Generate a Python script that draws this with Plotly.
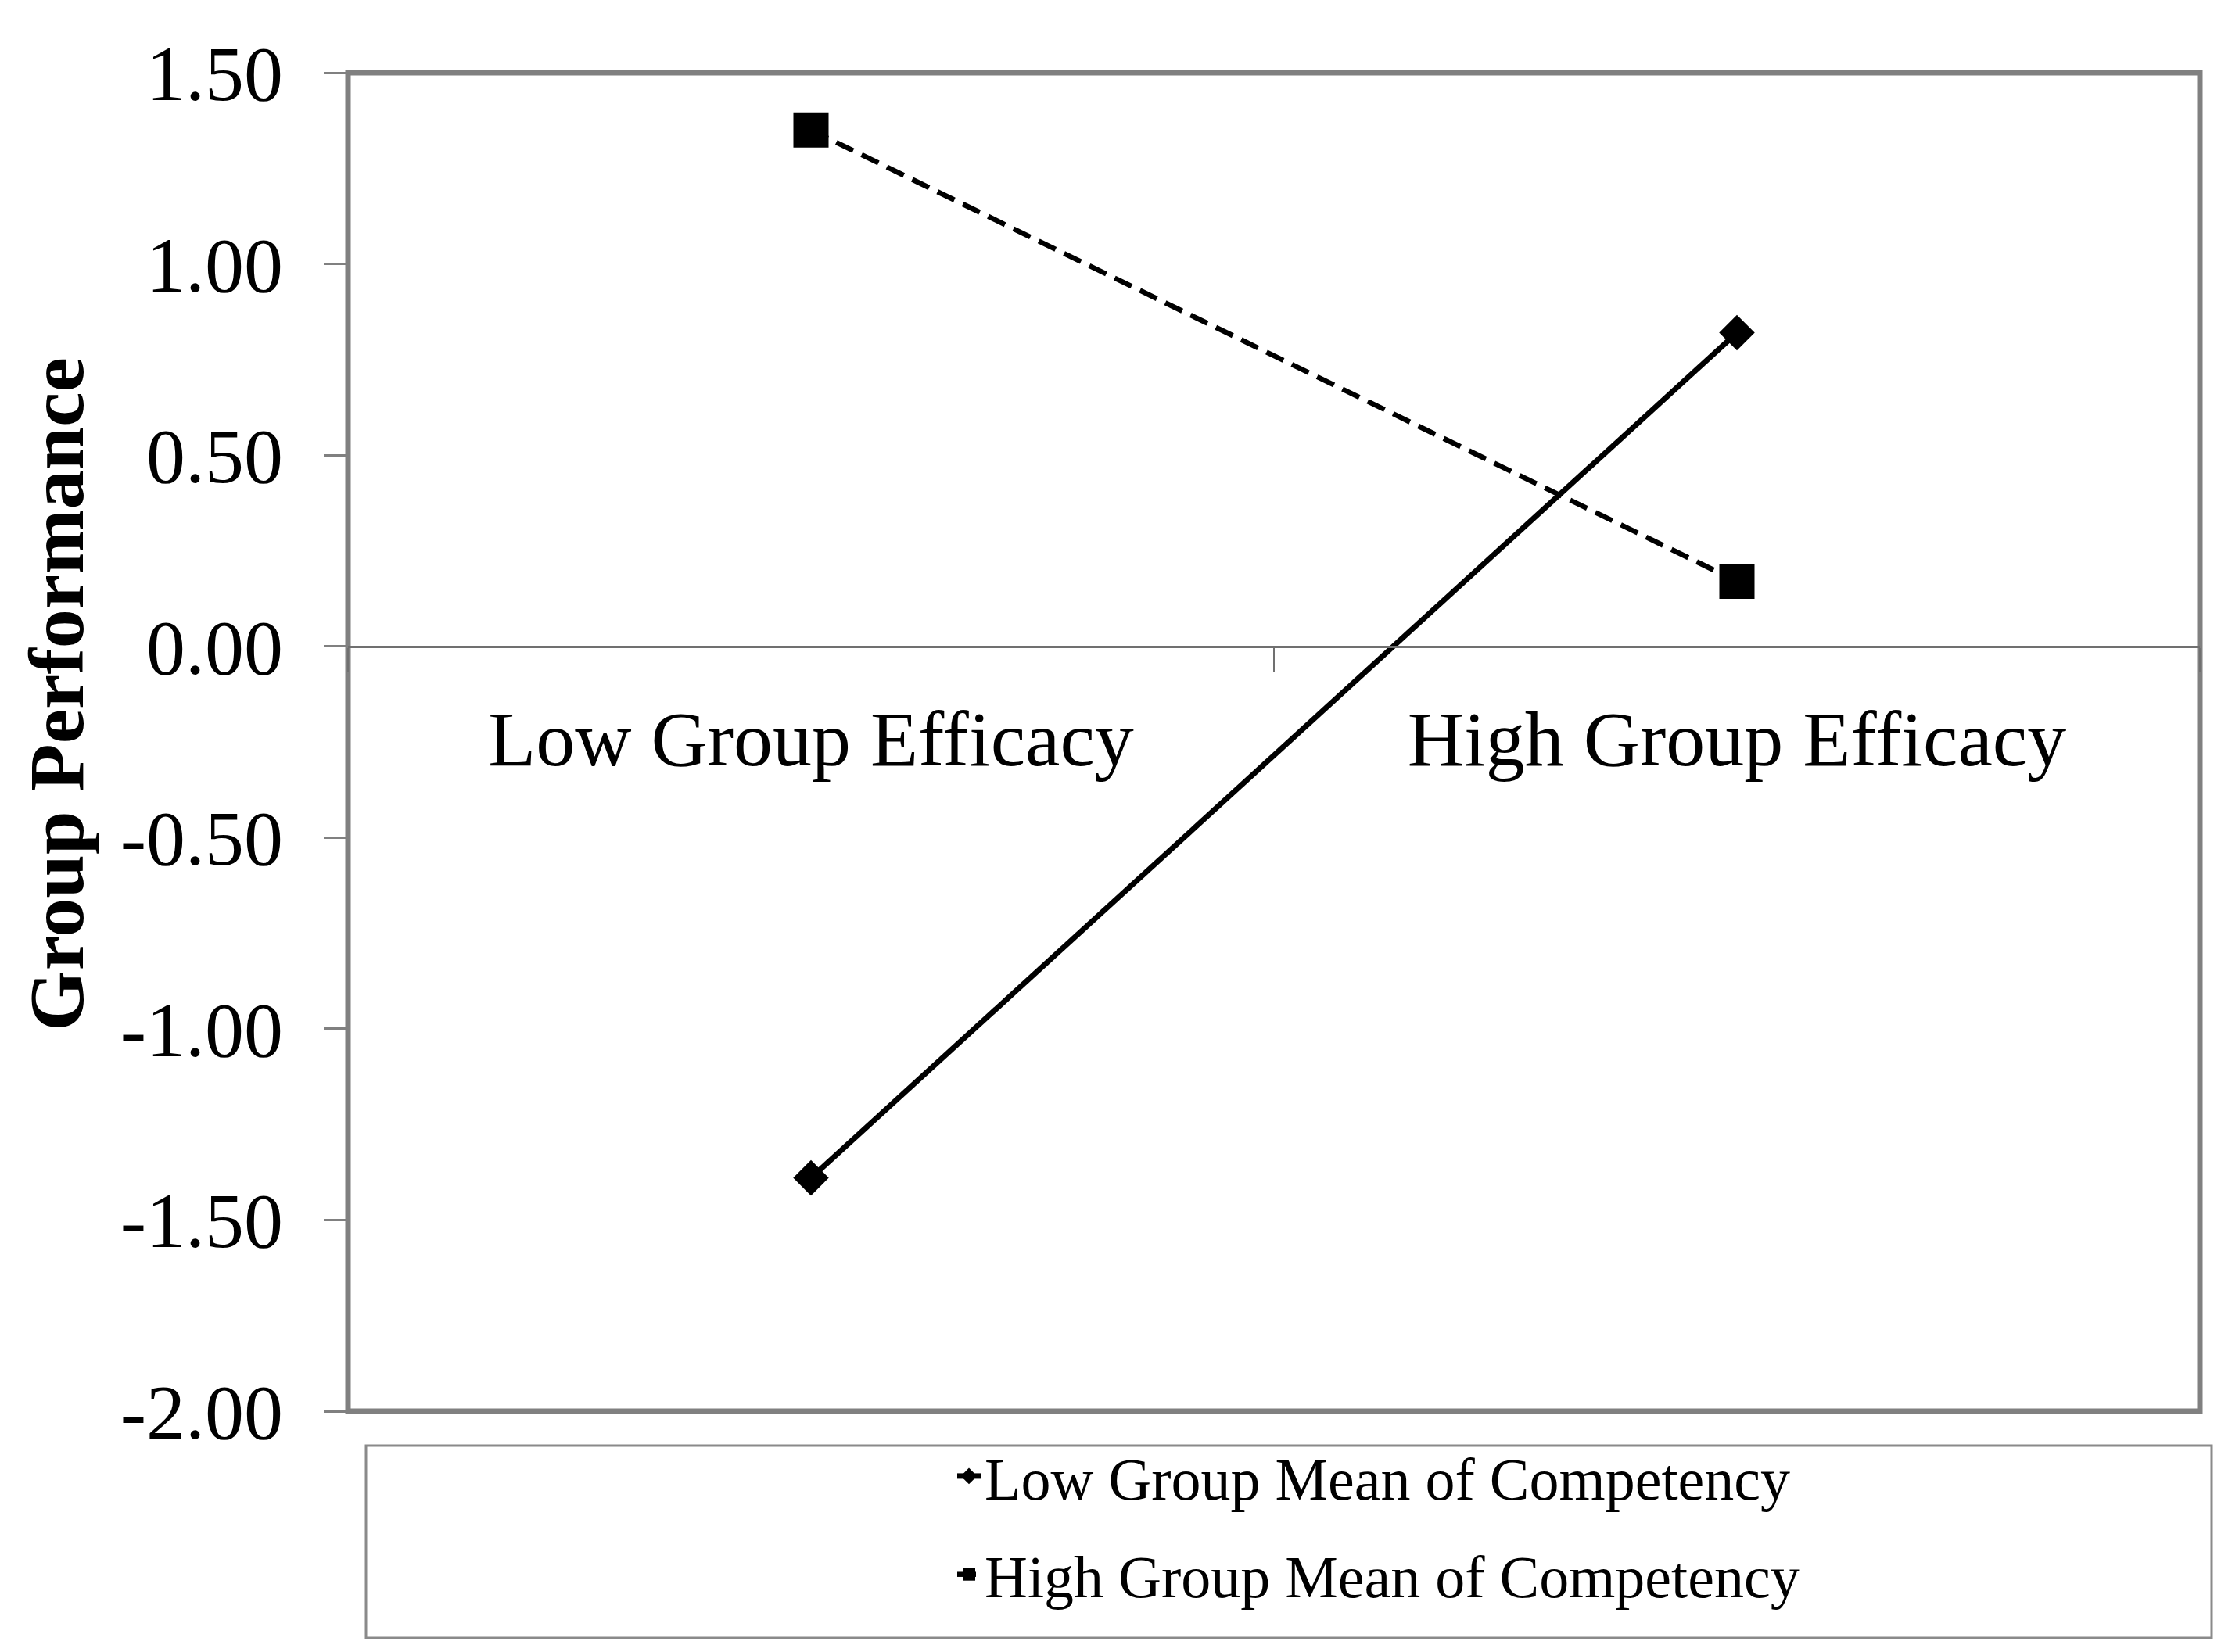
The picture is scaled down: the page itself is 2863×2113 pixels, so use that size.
import plotly.graph_objects as go

# data
efficacy = ['Low Group Efficacy', 'High Group Efficacy']
low_competency = [-1.39, 0.82]
high_competency = [1.35, 0.17]
y_ticks = [-2.0, -1.5, -1.0, -0.5, 0.0, 0.5, 1.0, 1.5]
y_ticktext = [f'{v:.2f}' for v in y_ticks]

W, H = 2863, 2113
L, R, T, B = 437, 2805, 85, 1797   # plot area edges in px


def px_x(p):
    return (p - L) / (R - L)


def px_y(p):
    return (B - p) / (B - T)


FONT = 'Liberation Serif'
GRAY = '#808080'

fig = go.Figure()

fig.add_trace(go.Scatter(
    x=efficacy, y=low_competency, mode='lines+markers',
    name='Low Group Mean of Competency', legendgroup='a',
    line=dict(color='black', width=7),
    marker=dict(symbol='diamond', size=35, color='black'),
))
fig.add_trace(go.Scatter(
    x=efficacy, y=high_competency, mode='lines+markers',
    name='High Group Mean of Competency', legendgroup='b',
    line=dict(color='black', width=6.5, dash='24px,12px'),
    marker=dict(symbol='square', size=45, color='black'),
))

y_min, y_max = -2.0, 1.5
zero_pos = (0 - y_min) / (y_max - y_min)

fig.update_layout(
    width=W, height=H,
    margin=dict(l=L, r=W - R, t=T, b=H - B),
    paper_bgcolor='white', plot_bgcolor='white',
    font=dict(family=FONT, color='black'),
    xaxis=dict(
        type='category', range=[-0.5, 1.5],
        anchor='free', position=zero_pos,
        showline=True, linecolor='#707070', linewidth=3,
        ticks='outside', tickson='boundaries', ticklen=30, tickwidth=2,
        tickcolor='#707070', showgrid=False, zeroline=False,
        tickfont=dict(family=FONT, size=100, color='black'),
        ticklabelstandoff=30,
    ),
    yaxis=dict(
        range=[y_min, y_max], tickvals=y_ticks, ticktext=y_ticktext,
        ticks='outside', ticklen=30, tickwidth=3, tickcolor=GRAY,
        showline=False, showgrid=False, zeroline=False,
        tickfont=dict(family=FONT, size=100, color='black'),
        ticklabelstandoff=32,
    ),
    showlegend=True,
    legend=dict(
        x=px_x(1211), y=px_y(1824), xanchor='left', yanchor='top',
        font=dict(family=FONT, size=76, color='black'),
        bgcolor='rgba(0,0,0,0)', borderwidth=0,
        tracegroupgap=24,
    ),
)

# plot frame
fig.add_shape(type='rect', xref='x domain', yref='y domain',
              x0=0, x1=1, y0=0, y1=1,
              line=dict(color=GRAY, width=7), layer='below')
# legend frame
fig.add_shape(type='rect', xref='paper', yref='paper',
              x0=px_x(460), x1=px_x(2820), y0=px_y(1841), y1=px_y(2087),
              line=dict(color='#8a8a8a', width=3), layer='below')

# y axis title
fig.add_annotation(
    text='<b>Group Performance</b>', textangle=-90,
    xref='paper', yref='paper', x=px_x(64), y=px_y(880),
    xanchor='center', yanchor='middle',
    showarrow=False, font=dict(family=FONT, size=100, color='black'),
)

fig.write_html('out.html')
